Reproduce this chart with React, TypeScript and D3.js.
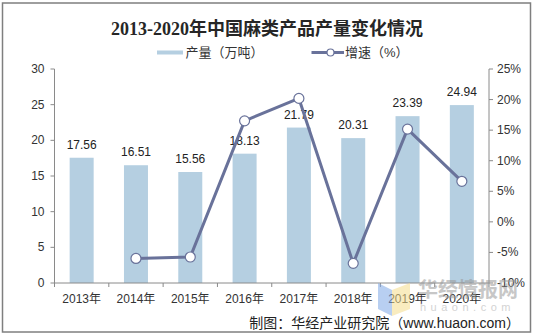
import React from "react";
import * as d3 from "d3";

const years = ["2013年", "2014年", "2015年", "2016年", "2017年", "2018年", "2019年", "2020年"];
const output = [17.56, 16.51, 15.56, 18.13, 21.79, 20.31, 23.39, 24.94];
const growth: (number | null)[] = [null, -5.98, -5.75, 16.52, 20.19, -6.79, 15.17, 6.63];
const leftTicks = [0, 5, 10, 15, 20, 25, 30];
const rightTicks = [-10, -5, 0, 5, 10, 15, 20, 25];

const W = 534, H = 336;
const BAR = "#b5cfe1";
const LINE = "#69729a";
const AXIS = "#8a8a8a";
const NUMFONT = "'Liberation Sans', Arial, sans-serif";
const CJK = "'Liberation Sans', 'Noto Sans CJK SC', sans-serif";

export default function App() {
  const x = d3.scaleBand<string>().domain(years).range([54.5, 489]).padding(0);
  const yL = d3.scaleLinear().domain([0, 30]).range([283, 69]);
  const yR = d3.scaleLinear().domain([-10, 25]).range([283, 69]);
  const bw = 24;
  const cx = (i: number) => (x(years[i]) as number) + x.bandwidth() / 2;

  const pts = growth
    .map((g, i) => (g === null ? null : ([cx(i), yR(g)] as [number, number])))
    .filter((p): p is [number, number] => p !== null);
  const line = d3.line<[number, number]>()(pts) || "";

  const x0 = 54.5, x1 = 489;
  const boundaries = d3.range(years.length + 1).map((i) => x0 + i * x.bandwidth());

  return (
    <svg width={W} height={H} style={{ position: "absolute", left: 0, top: 0, background: "#fff" }}>
      <rect x={2.5} y={3} width={528} height={329} fill="#fff" stroke="#7f7f7f" strokeWidth={1.5} />
      <text x={267} y={35} textAnchor="middle" fontFamily="'Liberation Serif', 'Noto Sans CJK SC', serif" fontWeight="bold" fontSize={18} fill="#262626">
        2013-2020年中国麻类产品产量变化情况
      </text>
      {/* legend */}
      <rect x={157} y={50.5} width={26} height={4} fill={BAR} />
      <text x={185.5} y={57} fontFamily={CJK} fontSize={13} fill="#333">产量（万吨）</text>
      <line x1={311.5} x2={344} y1={52.5} y2={52.5} stroke={LINE} strokeWidth={3} />
      <circle cx={330.5} cy={52.5} r={3.5} fill="#fff" stroke={LINE} strokeWidth={1.2} />
      <text x={345} y={57} fontFamily={CJK} fontSize={13} fill="#333">增速（%）</text>

      {/* bars */}
      {output.map((v, i) => (
        <g key={years[i]}>
          <rect x={cx(i) - bw / 2} y={yL(v)} width={bw} height={yL(0) - yL(v)} fill={BAR} />
          <text x={cx(i)} y={yL(v) - 9} textAnchor="middle" fontFamily={NUMFONT} fontSize={12} fill="#222">
            {v.toFixed(2)}
          </text>
        </g>
      ))}

      {/* axes */}
      <line x1={x0} x2={x0} y1={69} y2={283} stroke={AXIS} />
      {leftTicks.map((t) => (
        <g key={"l" + t}>
          <line x1={x0 - 4} x2={x0} y1={yL(t)} y2={yL(t)} stroke={AXIS} />
          <text x={x0 - 10} y={yL(t) + 4} textAnchor="end" fontFamily={NUMFONT} fontSize={12} fill="#333">{t}</text>
        </g>
      ))}
      <line x1={x1} x2={x1} y1={69} y2={283} stroke={AXIS} />
      {rightTicks.map((t) => (
        <g key={"r" + t}>
          <line x1={x1} x2={x1 + 4} y1={yR(t)} y2={yR(t)} stroke={AXIS} />
          <text x={x1 + 8} y={yR(t) + 4} textAnchor="start" fontFamily={NUMFONT} fontSize={12} fill="#333">{t}%</text>
        </g>
      ))}
      <line x1={x0} x2={x1} y1={283} y2={283} stroke={AXIS} />
      {boundaries.map((b, i) => (
        <line key={"b" + i} x1={b} x2={b} y1={283} y2={287} stroke={AXIS} />
      ))}
      {years.map((yname, i) => (
        <text key={"x" + yname} x={cx(i)} y={303} textAnchor="middle" fontFamily={CJK} fontSize={12} fill="#333">{yname}</text>
      ))}

      {/* line */}
      <path d={line} fill="none" stroke={LINE} strokeWidth={3} strokeLinejoin="round" />
      {pts.map((p, i) => (
        <circle key={"p" + i} cx={p[0]} cy={p[1]} r={5} fill="#fff" stroke={LINE} strokeWidth={1.2} />
      ))}

      {/* watermark */}
      <g opacity={0.55}>
        <polygon points="378,283 392,290 392,316 378,309" fill="#7fa8e6" />
        <polygon points="392,290 410,283 410,309 392,316" fill="#f5dd8c" />
        <text x={418} y={297} fontFamily="'Noto Sans CJK SC', sans-serif" fontWeight="bold" fontSize={20} fill="#9a9a9a">华经情报网</text>
        <text x={420} y={311} fontFamily={NUMFONT} fontSize={11} fill="#b0b0b0" letterSpacing={4.5}>huaon.com</text>
      </g>

      <text x={520} y={328} textAnchor="end" fontFamily={CJK} fontSize={14} fill="#222">制图：华经产业研究院（www.huaon.com）</text>
    </svg>
  );
}
